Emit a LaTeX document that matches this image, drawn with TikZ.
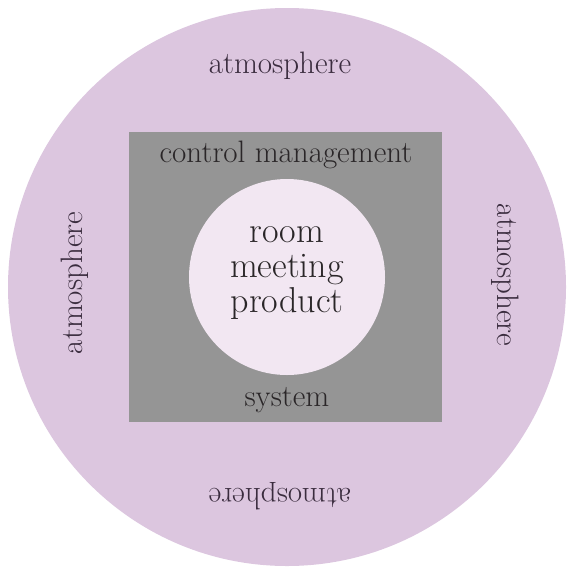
\documentclass[tikz,border=0pt]{standalone}
\usepackage{xcolor}
\usepackage{tikz}
\usetikzlibrary{positioning}

\definecolor{lilac}{HTML}{DCC6DF}
\definecolor{slab}{HTML}{959595}
\definecolor{pale}{HTML}{F2E7F2}
\definecolor{ink}{HTML}{2A2628}
\definecolor{plum}{HTML}{3A2C3E}

\begin{document}
\begin{tikzpicture}[x=1pt, y=-1pt,
    label/.style={text=ink, inner sep=0pt, anchor=base, font=\fontsize{31}{35}\selectfont},
    air/.style={label, text=plum},
    core/.style={text=ink, inner sep=0pt, anchor=base, font=\fontsize{36}{35}\selectfont}]
    \useasboundingbox (0,0) rectangle (572,568);

    \fill[lilac] (287,287) circle[radius=279];
    \fill[slab] (129,132) rectangle (442,422);
    \fill[pale] (287,277) circle[radius=98];

    \node[air] (top) at (280,73) {atmosphere};
    \node[air, rotate=180] (bottom) at (280,488) {atmosphere};
    \node[air, rotate=90] (left) at (82,283) {atmosphere};
    \node[air, rotate=-90] (right) at (497,275) {atmosphere};

    \node[label] (control) at (286,162) {control management};
    \node[label] (system) at (287,406) {system};
    \node[core] (room) at (287,242) {room};
    \node[core] (meeting) at (287,277) {meeting};
    \node[core] (product) at (287,312) {product};
\end{tikzpicture}
\end{document}
